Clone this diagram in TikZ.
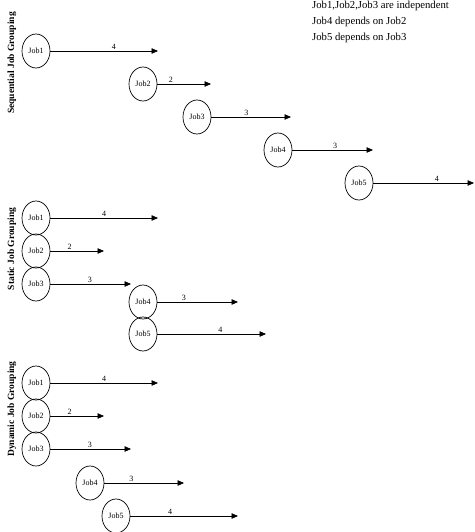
\documentclass[tikz,border=0pt]{standalone}
\usepackage{fontspec}
\setmainfont{Liberation Serif}
\usetikzlibrary{arrows.meta,shapes.geometric}
\tikzset{
  job/.style={draw, ellipse, line width=0.7pt, minimum width=28pt, minimum height=34pt, inner sep=0pt, font=\fontsize{8}{9}\selectfont},
  flow/.style={draw, line width=0.7pt, -{Triangle[length=6.5pt,width=5.5pt]}},
  lbl/.style={font=\fontsize{8}{9}\selectfont, above, inner sep=1.5pt},
  grp/.style={rotate=90, font=\fontsize{9.5}{10}\bfseries\selectfont},
}
\begin{document}
\begin{tikzpicture}[x=1pt,y=-1pt]
\useasboundingbox (0,0) rectangle (474,532);
\clip (0,0) rectangle (474,532);
% note
\node[anchor=north west, align=left, inner sep=0pt, font=\fontsize{10.7}{16}\selectfont] (note) at (312,1)
  {Job1,Job2,Job3 are independent\\Job4 depends on Job2\\Job5 depends on Job3};
% group labels
\node[grp] (gs) at (12,63) {Sequential Job Grouping};
\node[grp] (gt) at (12,249) {Static Job Grouping};
\node[grp] (gd) at (12,409) {Dynamic Job Grouping};
% Sequential
\node[job] (s1) at (36,51) {Job1};
\node[job] (s2) at (143,84) {Job2};
\node[job] (s3) at (197,117) {Job3};
\node[job] (s4) at (278,150) {Job4};
\node[job] (s5) at (359,183) {Job5};
\coordinate (se1) at (158,51);
\coordinate (se2) at (211,84);
\coordinate (se3) at (291,117);
\coordinate (se4) at (373,150);
\coordinate (se5) at (474,183);
\draw[flow] (s1) -- node[lbl, pos=0.59] {4} (se1);
\draw[flow] (s2) -- node[lbl, pos=0.25] {2} (se2);
\draw[flow] (s3) -- node[lbl, pos=0.44] {3} (se3);
\draw[flow] (s4) -- node[lbl, pos=0.53] {3} (se4);
\draw[flow] (s5) -- node[lbl, pos=0.63] {4} (se5);
% Static
\node[job] (t1) at (36,218) {Job1};
\node[job] (t2) at (36,251) {Job2};
\node[job] (t3) at (36,284) {Job3};
\node[job] (t4) at (143,302) {Job4};
\node[job] (t5) at (143,334) {Job5};
\coordinate (te1) at (158,218);
\coordinate (te2) at (104,251);
\coordinate (te3) at (131,284);
\coordinate (te4) at (238,302);
\coordinate (te5) at (266,334);
\draw[flow] (t1) -- node[lbl, pos=0.5] {4} (te1);
\draw[flow] (t2) -- node[lbl, pos=0.36] {2} (te2);
\draw[flow] (t3) -- node[lbl, pos=0.49] {3} (te3);
\draw[flow] (t4) -- node[lbl, pos=0.33] {3} (te4);
\draw[flow] (t5) -- node[lbl, pos=0.58] {4} (te5);
% Dynamic
\node[job] (d1) at (36,383) {Job1};
\node[job] (d2) at (36,416) {Job2};
\node[job] (d3) at (36,449) {Job3};
\node[job] (d4) at (90,483) {Job4};
\node[job] (d5) at (116,516) {Job5};
\coordinate (de1) at (158,383);
\coordinate (de2) at (104,416);
\coordinate (de3) at (131,449);
\coordinate (de4) at (184,483);
\coordinate (de5) at (238,516);
\draw[flow] (d1) -- node[lbl, pos=0.5] {4} (de1);
\draw[flow] (d2) -- node[lbl, pos=0.36] {2} (de2);
\draw[flow] (d3) -- node[lbl, pos=0.49] {3} (de3);
\draw[flow] (d4) -- node[lbl, pos=0.34] {3} (de4);
\draw[flow] (d5) -- node[lbl, pos=0.37] {4} (de5);
\end{tikzpicture}
\end{document}
